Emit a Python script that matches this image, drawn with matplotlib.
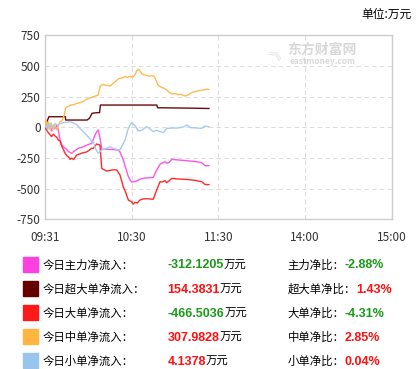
import matplotlib.pyplot as plt

plt.rcParams['font.family'] = ['Noto Sans CJK SC', 'DejaVu Sans']

# minutes since 09:30 (trading minutes, 240 total), values in 万元
main_t = [0, 0.9, 1.4, 2.5, 3.7, 4.8, 6, 7.1, 8.3, 9.4, 10.6, 11.7, 12.9, 14, 15.2, 16.3, 17.5,
          18.7, 20, 22.1, 23.2, 25, 27.9, 30, 32.5, 34.8, 36, 37, 38.2, 39.4, 42.8, 46, 50.9,
          52, 54.3, 57.8, 59, 60.1, 62.4, 64.7, 66, 68.1, 72, 75, 77.4, 79.7, 80.9, 83.1,
          84.3, 86, 87.8, 92, 98.1, 104, 108.5, 110.8, 113.5]
main_v = [0, 20, -21, 10, 20, -30, 15, -10, 20, -20, -103, -140, -157, -170, -178, -195, -205,
          -211, -195, -180, -170, -165, -151, -140, -130, -62, -35, -21, -86, -178, -178, -180, -184,
          -200, -265, -401, -428, -445, -440, -430, -420, -415, -410, -408, -347, -300, -292, -279,
          -292, -285, -260, -265, -271, -278, -287, -312, -312]

xl_t = [0, 1, 2.9, 14.3, 14.5, 29.3, 31, 32.7, 36, 37.9, 38.5, 77.5, 78, 100, 113.5]
xl_v = [0, 30, 87, 87, 60, 60, 75, 115, 120, 120, 182, 182, 160, 157, 154]

lg_t = [0, 1.4, 2.3, 3.7, 4.8, 6, 7.1, 8.3, 9.4, 10.6, 11.7, 12.9, 14, 15.2, 16.3, 17.5, 18.7,
        20, 22.1, 24.4, 26.7, 29, 32.5, 33.6, 35.9, 37, 38.2, 39.4, 41, 42.8, 45, 48, 49.8, 52,
        54.3, 56, 57.8, 59, 60.1, 61, 62.4, 64, 65.5, 67, 70, 75, 77.4, 79.7, 81, 83.1, 84.3,
        86, 87.8, 92, 98.1, 104, 108.5, 110.8, 113.5]
lg_v = [0, -21, -40, -60, -75, -55, -70, -80, -103, -110, -151, -180, -209, -230, -238, -260, -250,
        -262, -225, -215, -206, -200, -170, -170, -135, -140, -143, -333, -345, -355, -350, -345, -347, -387,
        -483, -530, -591, -600, -605, -625, -610, -615, -595, -585, -580, -585, -510, -442, -445, -434, -450,
        -435, -415, -420, -423, -432, -442, -465, -466]

md_t = [0, 0.9, 1.6, 2.5, 3.5, 4.5, 5.5, 6.5, 7.5, 8.5, 9.5, 10.6, 12, 13.5, 14.4, 16, 18, 20,
        22, 24, 26, 28, 30, 33.6, 37, 38.2, 39, 41, 43, 45, 47, 49, 51, 52, 54, 55.5, 57, 59,
        61, 62.5, 63.5, 64.5, 65.5, 67, 68, 70, 72, 74.8, 76, 78.3, 80, 82, 84, 86, 88, 90, 92,
        94, 97, 99, 101.8, 104, 106, 108, 110, 112, 113.5]
md_v = [0, 60, 10, 45, -15, 35, -25, 25, 0, -20, 15, 45, 55, 100, 158, 170, 182, 185,
        195, 200, 209, 222, 235, 250, 264, 330, 345, 348, 340, 337, 355, 375, 395, 400, 405, 415, 408, 415,
        410, 430, 460, 475, 465, 440, 430, 425, 418, 420, 410, 345, 330, 320, 310, 285, 272, 275, 268,
        270, 255, 265, 285, 292, 298, 302, 306, 310, 310]

sm_t = [0, 0.9, 2, 3.7, 5, 6, 7.1, 9, 10.6, 12.9, 15, 17.5, 19, 22, 24.4, 27, 29, 31, 32.5, 34,
        35, 37, 38.5, 39.4, 42, 45.1, 47, 50, 52, 53.5, 55.5, 57.8, 59, 60.1, 61.5, 63, 64.7, 67,
        68.1, 70.5, 72.5, 75, 77, 79, 82, 84.3, 88, 92, 96, 98.1, 101, 105, 108.5, 110.8, 113.5]
sm_v = [0, 20, -20, 33, 10, -10, 30, 20, 30, 38, 42, 46, 40, 25, -8, -40, -62, -90, -116, -125,
        -170, -211, -195, -184, -175, -157, -170, -180, -184, -150, -103, -8, 20, 38, 25, 5, -29, -25,
        -15, 6, -10, -35, -25, -30, -43, -8, -5, -5, 5, 20, -2, -5, -8, 12, 4]

series_colors = ['#ff40e0', '#660000', '#ff1a1a', '#ffb540', '#99c5ed']
line_colors = ['#ff55e6', '#6b0a0a', '#ff2a2a', '#ffbb50', '#a6ccf0']

yticks = [750, 500, 250, 0, -250, -500, -750]
xticks = [0, 60, 120, 180, 240]
xticklabels = ['09:31', '10:30', '11:30', '14:00', '15:00']

row_labels = ['今日主力净流入：', '今日超大单净流入：', '今日大单净流入：', '今日中单净流入：', '今日小单净流入：']
row_values = ['-312.1205', '154.3831', '-466.5036', '307.9828', '4.1378']
ratio_labels = ['主力净比：', '超大单净比：', '大单净比：', '中单净比：', '小单净比：']
ratio_values = ['-2.88%', '1.43%', '-4.31%', '2.85%', '0.04%']

W, H = 419, 369
fig = plt.figure(figsize=(W / 100, H / 100), dpi=100)
ax = fig.add_axes([44.7 / W, 1 - 219.5 / H, 347.3 / W, 184.2 / H])

for (t, v), c in zip([(main_t, main_v), (xl_t, xl_v), (lg_t, lg_v), (md_t, md_v), (sm_t, sm_v)],
                     line_colors):
    ax.plot(t, v, color=c, lw=1.0, zorder=3)

ax.set_xlim(0, 240)
ax.set_ylim(-750, 750)
ax.set_yticks(yticks)
ax.set_yticklabels([str(y) for y in yticks])
ax.set_xticks(xticks)
ax.set_xticklabels(xticklabels)
ax.tick_params(length=0, labelsize=8.5, labelcolor='#333333')
ax.tick_params(axis='y', pad=3)
ax.tick_params(axis='x', pad=8)
ax.grid(True, color='#dddddd', linestyle=(0, (4, 3)), lw=0.8)
for s in ax.spines.values():
    s.set_color('#cccccc')
    s.set_linewidth(1)

# watermark
fig.text(287 / W, 1 - 50 / H, '东方财富网', fontsize=10, color='#d8d8d8', fontweight='bold',
         ha='left', va='center')
fig.text(290 / W, 1 - 61.5 / H, 'eastmoney.com', fontsize=6, color='#d8d8d8', fontweight='bold',
         ha='left', va='center')
fig.text(278 / W, 1 - 52 / H, '》', fontsize=10, color='#dcdcdc', ha='center', va='center', rotation=60)

fig.text(412 / W, 1 - 14 / H, '单位:万元', fontsize=8.5, color='black', ha='right', va='center')

green = '#1a9a1a'
red = '#ff1010'
num_font = ['Liberation Sans', 'Noto Sans CJK SC']
row_y = [264, 288.3, 312.5, 336.5, 360.5]
fig.canvas.draw()
for i, y in enumerate(row_y):
    by = 1 - (y + 4.5) / H
    fig.patches.append(plt.Rectangle((23 / W, 1 - (y + 7.5) / H), 15 / W, 15 / H,
                                     transform=fig.transFigure, color=series_colors[i]))
    fig.text(42.5 / W, by, row_labels[i], fontsize=8.2, ha='left', va='baseline')
    col = green if row_values[i].startswith('-') else red
    tv = fig.text(167.5 / W, by, row_values[i], fontsize=9, fontweight='bold', color=col,
                  family=num_font, ha='left', va='baseline')
    bb = tv.get_window_extent(renderer=fig.canvas.get_renderer())
    fig.text(bb.x1 / W, by, '万元', fontsize=8.2, ha='left', va='baseline')
    tl = fig.text(287.5 / W, by, ratio_labels[i], fontsize=8.2, ha='left', va='baseline')
    bb = tl.get_window_extent(renderer=fig.canvas.get_renderer())
    colr = green if ratio_values[i].startswith('-') else red
    fig.text(bb.x1 / W, by, ratio_values[i], fontsize=9, fontweight='bold', color=colr,
             family=num_font, ha='left', va='baseline')

fig.savefig('out.png', dpi=100)
